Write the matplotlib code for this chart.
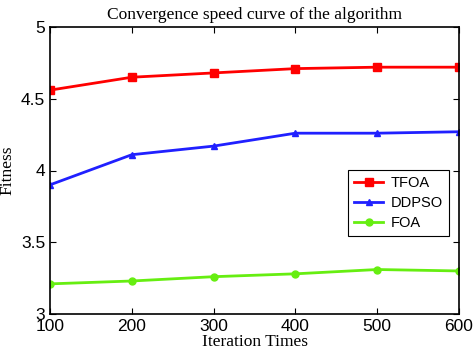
import matplotlib
matplotlib.use("Agg")
import matplotlib.pyplot as plt

# --- Datos ---
iterations = [100, 200, 300, 400, 500, 600]
tfoa = [4.56, 4.65, 4.68, 4.71, 4.72, 4.72]
ddpso = [3.90, 4.11, 4.17, 4.26, 4.26, 4.27]
foa = [3.21, 3.23, 3.26, 3.28, 3.31, 3.30]

fig = plt.figure(figsize=(4.74, 3.52), dpi=100)
ax = fig.add_axes([50 / 474, 1 - 314 / 352, 409 / 474, 287 / 352])

ax.plot(iterations, tfoa, '-s', color='#ff0000', lw=2, ms=6, label='TFOA')
ax.plot(iterations, ddpso, '-^', color='#2020ff', lw=2, ms=5, label='DDPSO')
ax.plot(iterations, foa, '-o', color='#66ee11', lw=2, ms=5, label='FOA')

ax.set_xlim(100, 600)
ax.set_ylim(3, 5)
ax.set_xticks(iterations)
ax.set_yticks([3, 3.5, 4, 4.5, 5])
ax.set_yticklabels(['3', '3.5', '4', '4.5', '5'])
ax.tick_params(direction='in', length=4, top=True, right=True, labelsize=12.5)
for lab in ax.get_xticklabels() + ax.get_yticklabels():
    lab.set_fontfamily('Liberation Sans')
for s in ax.spines.values():
    s.set_linewidth(1.2)

ax.set_title('Convergence speed curve of the algorithm', fontfamily='Liberation Serif',
             fontsize=12.5, pad=6)
ax.set_xlabel('Iteration Times', fontfamily='Liberation Serif', fontsize=12.5, labelpad=0)
ax.set_ylabel('Fitness', fontfamily='Liberation Serif', fontsize=12.5, labelpad=4)

leg = ax.legend(loc='upper left', bbox_to_anchor=(341 / 474, 1 - 163 / 352),
                bbox_transform=fig.transFigure, fancybox=False, framealpha=1,
                edgecolor='black', prop={'family': 'Liberation Sans', 'size': 10.5},
                handlelength=2.0, handletextpad=0.5, borderpad=0.4, labelspacing=0.4)
leg.get_frame().set_linewidth(0.8)

fig.savefig('out.png', dpi=100)
